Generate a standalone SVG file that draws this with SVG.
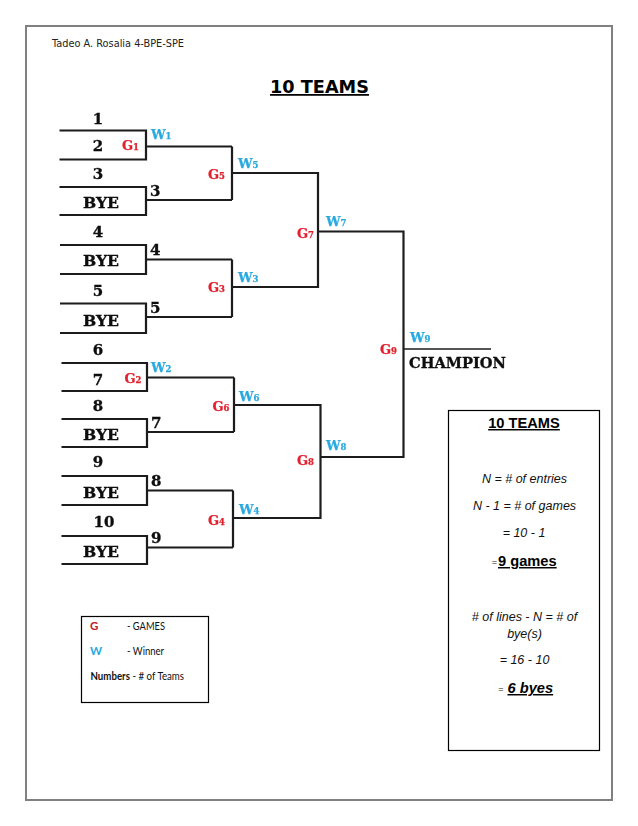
<svg xmlns="http://www.w3.org/2000/svg" width="638" height="826" viewBox="0 0 638 826">
<defs><filter id="soft" x="-5%" y="-5%" width="110%" height="110%"><feGaussianBlur stdDeviation="0.45"/></filter></defs>
<style>
.sheet{fill:#fff;stroke:#808080;stroke-width:2}
.box{fill:#fff;stroke:#000;stroke-width:1.2}
.ln{fill:none;stroke:#1c1c1c;stroke-width:2.2}
.n{font:bold 15px "DejaVu Serif",serif;fill:#111;stroke:#111;stroke-width:.35}
.m{text-anchor:middle}
.b{font:bold 14.5px "DejaVu Serif",serif;fill:#111;stroke:#111;stroke-width:.35}
.g{font:bold 13px "DejaVu Serif",serif;fill:#e2202e;stroke:#e2202e;stroke-width:.25}
.w{font:bold 13px "DejaVu Serif",serif;fill:#29a9e0;stroke:#29a9e0;stroke-width:.25}
.s{font-size:8.500px}
.i{font:italic 12.500px "Liberation Sans",Arial,sans-serif;fill:#111;text-anchor:middle}
.e{font:10px "Lato",sans-serif;fill:#111}
.k{font:bold 14.67px "Liberation Sans",Arial,sans-serif;fill:#000;text-decoration:underline}
.l{font:10.500px "Lato",sans-serif;fill:#111}
</style>
<rect width="638" height="826" fill="#fff"/>
<rect class="sheet" x="26" y="26" width="586" height="774"/>
<text x="52" y="47" font-family="'DejaVu Sans',sans-serif" font-size="10" fill="#222" textLength="132" lengthAdjust="spacingAndGlyphs">Tadeo A. Rosalia 4-BPE-SPE</text>
<text x="319.500" y="93" text-anchor="middle" font-family="'DejaVu Sans',sans-serif" font-size="17.700" font-weight="bold" text-decoration="underline" fill="#000">10 TEAMS</text>

<g id="connectors" filter="url(#soft)">
<path class="ln" d="M59.500 130.500H146V159.500H59.500M146 146.500H232M59.500 187H146V215H59.500M146 200H232M232 146.500V200"/>
<path class="ln" d="M60 245H146V274H60M146 259.500H232M60 303.500H146V333H60M146 317H232M232 259.500V317"/>
<path class="ln" d="M232 173H318V287H232M318 231.500H403.500V457H320"/>
<path class="ln" d="M61.500 363H147V391H61.500M147 377.500H234M61.500 419H147V447H61.500M147 432H234M234 377.500V432"/>
<path class="ln" d="M61.500 476H147V505H61.500M147 490.500H233M61.500 536H147V564H61.500M147 547.500H233M233 490.500V547.500"/>
<path class="ln" d="M234 405H320.500V518H233"/>
<path class="ln" style="stroke-width:1.500" d="M403.500 349H491"/>
</g>

<g filter="url(#soft)">
<g id="team-1"><text class="n m" x="98" y="123.500">1</text></g>
<g id="team-2"><text class="n m" x="98" y="151">2</text></g>
<g id="team-3"><text class="n m" x="98" y="179">3</text></g>
<g id="bye-3"><text class="b" x="83" y="207.500" textLength="36" lengthAdjust="spacingAndGlyphs">BYE</text></g>
<g id="team-4"><text class="n m" x="98" y="237">4</text></g>
<g id="bye-4"><text class="b" x="83" y="266" textLength="36" lengthAdjust="spacingAndGlyphs">BYE</text></g>
<g id="team-5"><text class="n m" x="98" y="296">5</text></g>
<g id="bye-5"><text class="b" x="83" y="326" textLength="36" lengthAdjust="spacingAndGlyphs">BYE</text></g>
<g id="team-6"><text class="n m" x="98" y="354.500">6</text></g>
<g id="team-7"><text class="n m" x="98" y="384.500">7</text></g>
<g id="team-8"><text class="n m" x="98" y="411">8</text></g>
<g id="bye-8"><text class="b" x="83" y="440" textLength="36" lengthAdjust="spacingAndGlyphs">BYE</text></g>
<g id="team-9"><text class="n m" x="98" y="467">9</text></g>
<g id="bye-9"><text class="b" x="83" y="497.500" textLength="36" lengthAdjust="spacingAndGlyphs">BYE</text></g>
<g id="team-10"><text class="n m" x="104" y="527">10</text></g>
<g id="bye-10"><text class="b" x="83" y="556.500" textLength="36" lengthAdjust="spacingAndGlyphs">BYE</text></g>
<g id="adv-3"><text class="n" x="150" y="196">3</text></g>
<g id="adv-4"><text class="n" x="150" y="255">4</text></g>
<g id="adv-5"><text class="n" x="150" y="313">5</text></g>
<g id="adv-7"><text class="n" x="151" y="427.500">7</text></g>
<g id="adv-8"><text class="n" x="151" y="485.500">8</text></g>
<g id="adv-9"><text class="n" x="151" y="542.500">9</text></g>
<g id="g1"><text class="g" x="122" y="149.500">G<tspan class="s">1</tspan></text></g>
<g id="w1"><text class="w" x="151" y="139">W<tspan class="s">1</tspan></text></g>
<g id="g5"><text class="g" x="208" y="179">G<tspan class="s">5</tspan></text></g>
<g id="w5"><text class="w" x="238" y="168">W<tspan class="s">5</tspan></text></g>
<g id="g3"><text class="g" x="208" y="292">G<tspan class="s">3</tspan></text></g>
<g id="w3"><text class="w" x="238" y="282">W<tspan class="s">3</tspan></text></g>
<g id="g7"><text class="g" x="297" y="238">G<tspan class="s">7</tspan></text></g>
<g id="w7"><text class="w" x="326" y="226">W<tspan class="s">7</tspan></text></g>
<g id="g2"><text class="g" x="124.500" y="383">G<tspan class="s">2</tspan></text></g>
<g id="w2"><text class="w" x="151" y="372">W<tspan class="s">2</tspan></text></g>
<g id="g6"><text class="g" x="212.500" y="411">G<tspan class="s">6</tspan></text></g>
<g id="w6"><text class="w" x="239" y="400.500">W<tspan class="s">6</tspan></text></g>
<g id="g4"><text class="g" x="208" y="524.500">G<tspan class="s">4</tspan></text></g>
<g id="w4"><text class="w" x="239" y="513.500">W<tspan class="s">4</tspan></text></g>
<g id="g8"><text class="g" x="297" y="465">G<tspan class="s">8</tspan></text></g>
<g id="w8"><text class="w" x="326" y="450">W<tspan class="s">8</tspan></text></g>
<g id="g9"><text class="g" x="380" y="354">G<tspan class="s">9</tspan></text></g>
<g id="w9"><text class="w" x="410" y="341.500">W<tspan class="s">9</tspan></text></g>
<g id="champion"><text class="b" x="409" y="367.500" textLength="97" lengthAdjust="spacingAndGlyphs">CHAMPION</text></g>
</g>

<g id="formula-box">
<rect class="box" x="448.500" y="410.500" width="151" height="340"/>
<text class="k" x="524" y="428" text-anchor="middle">10 TEAMS</text>
<text class="i" x="524.500" y="483">N = # of entries</text>
<text class="i" x="524.500" y="510">N - 1 = # of games</text>
<text class="i" x="524" y="537">= 10 - 1</text>
<text class="e" x="491.500" y="566">=</text>
<text class="k" x="498" y="566">9 games</text>
<text class="i" x="524.500" y="621"># of lines - N = # of</text>
<text class="i" x="524.500" y="637.500">bye(s)</text>
<text class="i" x="524.500" y="664">= 16 - 10</text>
<text class="e" x="498" y="693">=</text>
<text class="k" x="507.500" y="693" style="font-style:italic">6 byes</text>
</g>

<g id="legend">
<rect class="box" x="81.500" y="616.500" width="127" height="86"/>
<text class="l" x="90" y="630" style="font-size:11.500px;font-weight:bold;fill:#c0202a">G</text>
<text class="l" x="127" y="630" textLength="38" lengthAdjust="spacingAndGlyphs">- GAMES</text>
<text class="l" x="90" y="655" style="font-size:11.500px;font-weight:bold;fill:#29a9e0">W</text>
<text class="l" x="127" y="655" textLength="37" lengthAdjust="spacingAndGlyphs">- Winner</text>
<text class="l" x="90.500" y="680" textLength="93.500" lengthAdjust="spacingAndGlyphs"><tspan style="font-weight:bold">Numbers</tspan> - # of Teams</text>
</g>
</svg>
